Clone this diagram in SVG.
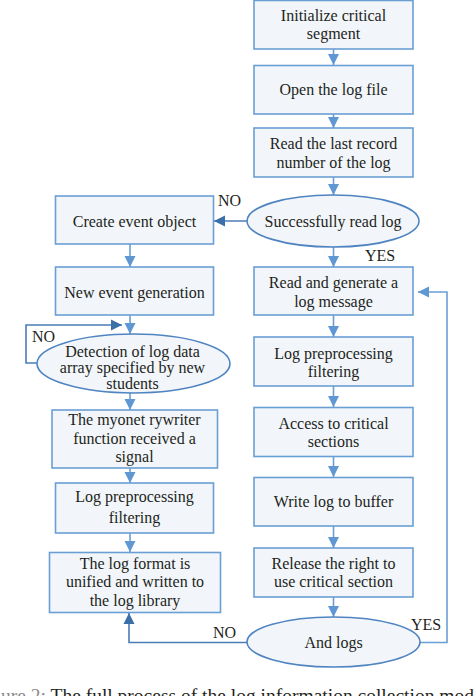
<svg xmlns="http://www.w3.org/2000/svg" width="474" height="696" viewBox="0 0 474 696">
<style>
.box{fill:#f2f6fb;stroke:#6a9fd4;stroke-width:1.6}
.ell{fill:#f2f6fb;stroke:#4f84c0;stroke-width:1.6}
.t{font-family:"Liberation Serif","Times New Roman",serif;font-size:16px;fill:#231f20;text-anchor:middle}
.lbl{font-family:"Liberation Serif","Times New Roman",serif;font-size:16px;fill:#231f20}
.c{fill:none;stroke:#6a9fd4;stroke-width:1.6}
.cd{fill:none;stroke:#4a7db8;stroke-width:1.6}
.cap{font-family:"Liberation Serif","Times New Roman",serif;font-size:19.5px;fill:#231f20}
</style>
<defs>
<marker id="ah" viewBox="0 0 10 10" refX="10" refY="5" markerWidth="11" markerHeight="13" markerUnits="userSpaceOnUse" orient="auto">
<path d="M0,0 L10,5 L0,10 z" fill="#5e97d2"/>
</marker>
<marker id="ahd" viewBox="0 0 10 10" refX="10" refY="5" markerWidth="11" markerHeight="13" markerUnits="userSpaceOnUse" orient="auto">
<path d="M0,0 L10,5 L0,10 z" fill="#3b6fa8"/>
</marker>
</defs>

<g id="connectors">
<line class="c" x1="333.5" y1="49" x2="333.5" y2="65" marker-end="url(#ah)"/>
<line class="c" x1="333.5" y1="114" x2="333.5" y2="128" marker-end="url(#ah)"/>
<line class="c" x1="333.5" y1="177" x2="333.5" y2="195" marker-end="url(#ah)"/>
<line class="cd" x1="247" y1="221" x2="214" y2="221" marker-end="url(#ahd)"/>
<line class="c" x1="333.5" y1="247" x2="333.5" y2="267" marker-end="url(#ah)"/>
<line class="c" x1="130" y1="244" x2="130" y2="267" marker-end="url(#ah)"/>
<line class="c" x1="130" y1="315" x2="130" y2="334" marker-end="url(#ah)"/>
<polyline class="cd" points="37,363 26,363 26,325 122,325" marker-end="url(#ahd)"/>
<line class="c" x1="130" y1="393" x2="130" y2="410" marker-end="url(#ah)"/>
<line class="c" x1="130" y1="468" x2="130" y2="483" marker-end="url(#ah)"/>
<line class="c" x1="130" y1="533" x2="130" y2="552" marker-end="url(#ah)"/>
<polyline class="cd" points="247,642.5 129,642.5 129,613" marker-end="url(#ahd)"/>
<line class="c" x1="333.5" y1="315" x2="333.5" y2="337" marker-end="url(#ah)"/>
<line class="c" x1="333.5" y1="386" x2="333.5" y2="407" marker-end="url(#ah)"/>
<line class="c" x1="333.5" y1="457" x2="333.5" y2="477" marker-end="url(#ah)"/>
<line class="c" x1="333.5" y1="526" x2="333.5" y2="548" marker-end="url(#ah)"/>
<line class="c" x1="333.5" y1="597" x2="333.5" y2="617" marker-end="url(#ah)"/>
<polyline class="c" points="420,642.5 447,642.5 447,292 418,292" marker-end="url(#ah)"/>
<text class="lbl" x="218" y="206">NO</text>
<text class="lbl" x="365" y="261">YES</text>
<text class="lbl" x="32" y="341.5">NO</text>
<text class="lbl" x="213" y="637.5">NO</text>
<text class="lbl" x="411" y="629.5">YES</text>
</g>

<g id="n1"><rect class="box" x="254" y="0.5" width="159" height="48.5"/>
<text class="t" x="333.5" y="20.5">Initialize critical</text><text class="t" x="333.5" y="39">segment</text></g>
<g id="n2"><rect class="box" x="254" y="65.5" width="159" height="48.5"/>
<text class="t" x="333.5" y="95">Open the log file</text></g>
<g id="n3"><rect class="box" x="254" y="128" width="159" height="49"/>
<text class="t" x="333.5" y="148.5">Read the last record</text><text class="t" x="333.5" y="168">number of the log</text></g>
<g id="n4"><ellipse class="ell" cx="333" cy="221" rx="86" ry="26"/>
<text class="t" x="333" y="226.5">Successfully read log</text></g>
<g id="n5"><rect class="box" x="55.5" y="196" width="158" height="48"/>
<text class="t" x="134.5" y="226.5">Create event object</text></g>
<g id="n6"><rect class="box" x="55.5" y="267" width="158" height="48"/>
<text class="t" x="134.5" y="297.5">New event generation</text></g>
<g id="n7"><ellipse class="ell" cx="133.5" cy="363.5" rx="96.5" ry="29.5"/>
<text class="t" x="132.5" y="356.5">Detection of log data</text><text class="t" x="132.5" y="373">array specified by new</text><text class="t" x="132.5" y="388.5">students</text></g>
<g id="n8"><rect class="box" x="52" y="410" width="165.5" height="58"/>
<text class="t" x="134.5" y="425">The myonet rywriter</text><text class="t" x="134.5" y="443.5">function received a</text><text class="t" x="134.5" y="461.5">signal</text></g>
<g id="n9"><rect class="box" x="55.5" y="483" width="158" height="50"/>
<text class="t" x="134.5" y="501.5">Log preprocessing</text><text class="t" x="134.5" y="523">filtering</text></g>
<g id="n10"><rect class="box" x="49.5" y="552.5" width="171" height="60"/>
<text class="t" x="135" y="568.5">The log format is</text><text class="t" x="135" y="587">unified and written to</text><text class="t" x="135" y="606">the log library</text></g>
<g id="n11"><rect class="box" x="254" y="267" width="159" height="48"/>
<text class="t" x="333.5" y="287.5">Read and generate a</text><text class="t" x="333.5" y="306.5">log message</text></g>
<g id="n12"><rect class="box" x="254" y="337" width="159" height="49"/>
<text class="t" x="333.5" y="358.5">Log preprocessing</text><text class="t" x="333.5" y="376.5">filtering</text></g>
<g id="n13"><rect class="box" x="254" y="407.5" width="159" height="49"/>
<text class="t" x="333.5" y="428.5">Access to critical</text><text class="t" x="333.5" y="446.5">sections</text></g>
<g id="n14"><rect class="box" x="254" y="477.5" width="159" height="48.5"/>
<text class="t" x="333.5" y="506.5">Write log to buffer</text></g>
<g id="n15"><rect class="box" x="254" y="548" width="159" height="49"/>
<text class="t" x="333.5" y="568.5">Release the right to</text><text class="t" x="333.5" y="586.5">use critical section</text></g>
<g id="n16"><ellipse class="ell" cx="333.5" cy="642" rx="86.5" ry="25"/>
<text class="t" x="333.5" y="647.5">And logs</text></g>

<text class="cap" x="1" y="702"><tspan fill="#8a8a8a">ure 2: </tspan>The full process of the log information collection mod</text>
</svg>
